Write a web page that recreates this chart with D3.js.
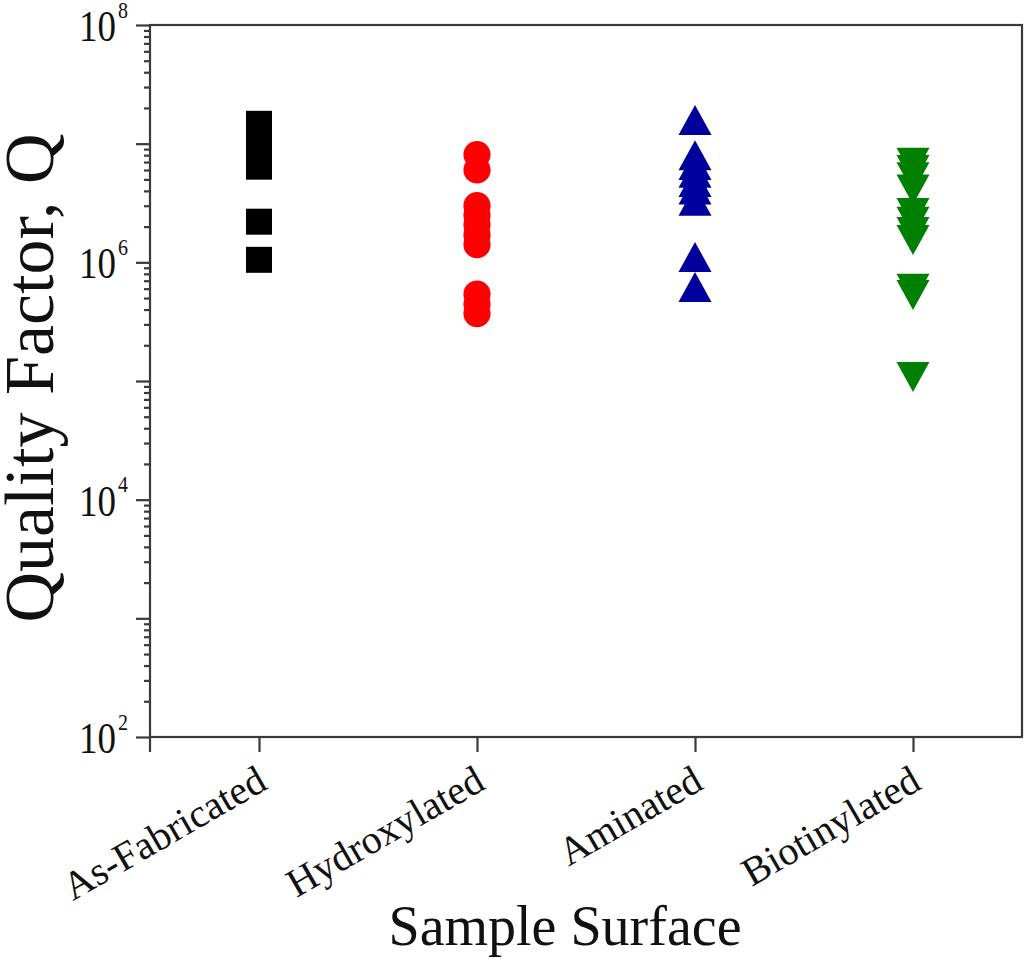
<!DOCTYPE html>
<html>
<head>
<meta charset="utf-8">
<script src="https://cdn.jsdelivr.net/npm/d3@7/dist/d3.min.js"></script>
<style>
  body { margin: 0; background: #fff; }
  svg text { font-family: "Liberation Serif", "Times New Roman", serif; fill: #111; }
</style>
</head>
<body>
<svg id="chart" width="1024" height="959"></svg>
<script>
// values
var categories = ["As-Fabricated", "Hydroxylated", "Aminated", "Biotinylated"];
var asFabricated = [1.47e7, 1.18e7, 9.5e6, 7.7e6, 6.4e6, 2.2e6, 1.05e6];
var hydroxylated = [8.1e6, 6.0e6, 3.0e6, 2.5e6, 2.07e6, 1.7e6, 1.41e6, 5.4e5, 4.45e5, 3.7e5];
var aminated = [1.58e7, 8.0e6, 6.6e6, 5.7e6, 4.75e6, 4.1e6, 3.3e6, 1.11e6, 6.2e5];
var biotinylated = [6.9e6, 6.0e6, 5.2e6, 4.1e6, 2.6e6, 2.2e6, 1.8e6, 1.54e6, 6.0e5, 5.3e5, 1.08e5];
var yLabels = [2, 4, 6, 8];

var svg = d3.select("#chart"),
    plotLeft = 150, plotRight = 1022, plotTop = 25, plotBottom = 737;

var x = d3.scalePoint().domain(categories).range([plotLeft, plotRight]).padding(0.5);
var y = d3.scaleLog().domain([1e2, 1e8]).range([plotBottom, plotTop]);

var axisColor = "#3a3a3a";
var stretch = 1.17; // the tick numbers are drawn a bit taller than wide

// minor and major log ticks
var minor = [], major = [];
for (var e = 2; e < 8; e++) {
  for (var m = 2; m < 10; m++) minor.push(m * Math.pow(10, e));
}
for (var e = 2; e <= 8; e++) major.push(Math.pow(10, e));

var gMinor = svg.append("g").attr("transform", "translate(" + plotLeft + ",0)")
    .call(d3.axisLeft(y).tickValues(minor).tickSize(6).tickFormat(""));
var gMajor = svg.append("g").attr("transform", "translate(" + plotLeft + ",0)")
    .call(d3.axisLeft(y).tickValues(major).tickSize(14).tickFormat("").tickSizeOuter(0));
gMinor.select(".domain").remove();
gMajor.select(".domain").remove();

var gx = svg.append("g").attr("transform", "translate(0," + plotBottom + ")")
    .call(d3.axisBottom(x).tickSize(15).tickSizeOuter(0).tickFormat(""));
gx.select(".domain").remove();

svg.selectAll(".tick line").attr("stroke", axisColor).attr("stroke-width", 2.2);

// frame
svg.append("rect")
    .attr("x", plotLeft).attr("y", plotTop)
    .attr("width", plotRight - plotLeft).attr("height", plotBottom - plotTop)
    .attr("fill", "none").attr("stroke", axisColor).attr("stroke-width", 2.2);
svg.append("line")
    .attr("x1", plotLeft).attr("x2", plotLeft).attr("y1", plotBottom).attr("y2", plotBottom + 15)
    .attr("stroke", axisColor).attr("stroke-width", 2.2);

// y tick labels 10^n
var yl = svg.append("g").selectAll("text").data(yLabels).enter().append("text")
    .attr("transform", function(d) { return "translate(128," + y(Math.pow(10, d)) + ") scale(1," + stretch + ")"; })
    .attr("y", 13.7)
    .attr("text-anchor", "end")
    .style("font-size", "37px");
yl.append("tspan").text("10");
yl.append("tspan")
    .attr("dy", -20).attr("dx", 2)
    .style("font-size", "20px")
    .text(function(d) { return d; });

// x tick labels
svg.append("g").selectAll("text").data(categories).enter().append("text")
    .attr("transform", function(d) {
      return "translate(" + (x(d) + 10) + ",788) rotate(-30)";
    })
    .attr("text-anchor", "end")
    .style("font-size", "40px")
    .text(function(d) { return d; });

// axis titles
svg.append("text")
    .attr("x", (plotLeft + plotRight) / 2 - 21).attr("y", 945)
    .attr("text-anchor", "middle")
    .style("font-size", "56px")
    .text("Sample Surface");

svg.append("text")
    .attr("transform", "translate(53,378) rotate(-90)")
    .attr("text-anchor", "middle")
    .style("font-size", "70px")
    .text("Quality Factor, Q");

// markers
function pts(cat, vals) {
  return vals.map(function(v) { return { cat: cat, v: v }; });
}

svg.append("g").selectAll("rect").data(pts(categories[0], asFabricated)).enter().append("rect")
    .attr("x", function(d) { return x(d.cat) - 13; })
    .attr("y", function(d) { return y(d.v) - 13; })
    .attr("width", 26).attr("height", 26)
    .attr("fill", "#000");

svg.append("g").selectAll("circle").data(pts(categories[1], hydroxylated)).enter().append("circle")
    .attr("cx", function(d) { return x(d.cat); })
    .attr("cy", function(d) { return y(d.v); })
    .attr("r", 13.6)
    .attr("fill", "#ff0000");

function tri(w, h, up) {
  return up
    ? "M0," + (-h / 2) + "L" + (w / 2) + "," + (h / 2) + "L" + (-w / 2) + "," + (h / 2) + "Z"
    : "M0," + (h / 2) + "L" + (w / 2) + "," + (-h / 2) + "L" + (-w / 2) + "," + (-h / 2) + "Z";
}

svg.append("g").selectAll("path").data(pts(categories[2], aminated)).enter().append("path")
    .attr("transform", function(d) { return "translate(" + x(d.cat) + "," + y(d.v) + ")"; })
    .attr("d", tri(33, 30, true))
    .attr("fill", "#00009c");

svg.append("g").selectAll("path").data(pts(categories[3], biotinylated)).enter().append("path")
    .attr("transform", function(d) { return "translate(" + x(d.cat) + "," + y(d.v) + ")"; })
    .attr("d", tri(33, 30, false))
    .attr("fill", "#008000");
</script>
</body>
</html>
